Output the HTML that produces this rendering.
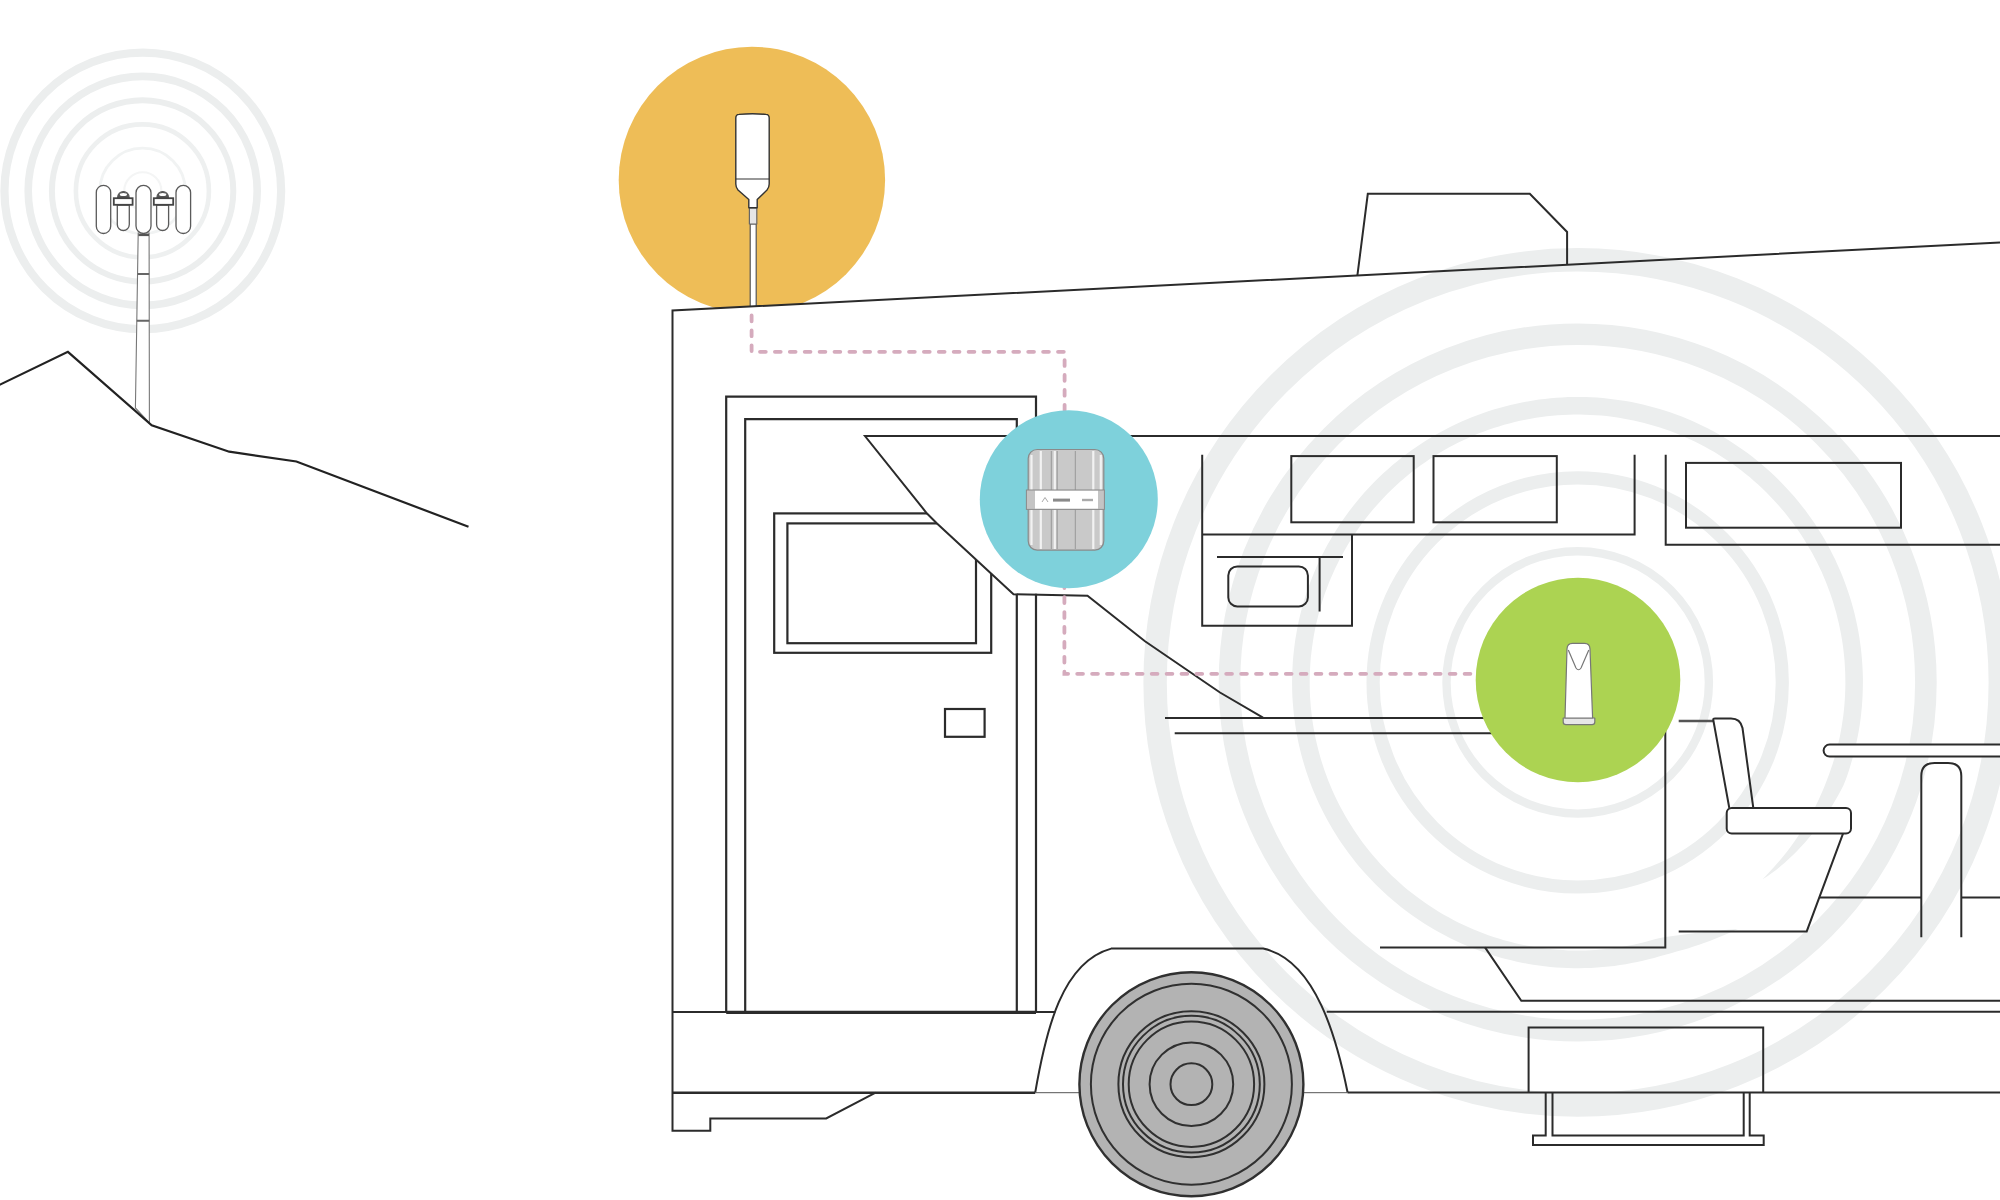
<!DOCTYPE html>
<html>
<head>
<meta charset="utf-8">
<title>RV signal booster diagram</title>
<style>
html,body{margin:0;padding:0;background:#fff;font-family:"Liberation Sans",sans-serif;}
svg{display:block;}
</style>
</head>
<body>
<svg width="2000" height="1200" viewBox="0 0 2000 1200">
<rect width="2000" height="1200" fill="#fff"/>

<!-- ===== TOWER ===== -->
<g id="tower-rings" fill="none" stroke="#eceeee">
  <circle cx="142.8" cy="190.9" r="138.35" stroke-width="8.2"/>
  <circle cx="142.7" cy="190.9" r="114.5" stroke-width="7.6"/>
  <circle cx="142.6" cy="190.9" r="90.7" stroke-width="6"/>
  <circle cx="142.4" cy="190.9" r="66.5" stroke-width="4.6" stroke="#eef0f0"/>
  <circle cx="142.6" cy="190.9" r="42.8" stroke-width="2.8" stroke="#f1f3f3"/>
  <circle cx="142.8" cy="190.9" r="18.6" stroke-width="2.1" stroke="#f4f5f5"/>
</g>
<g id="tower" fill="#fff" stroke="#5a5a5a" stroke-width="1.3">
  <path d="M138.2,233 L149.1,233 L149.4,423 L135.4,408 Z" stroke="#777" stroke-width="1.1"/>
  <path d="M137.6,274 H149.2 M136.8,320.8 H149.3" stroke="#666" stroke-width="2"/>
  <path d="M138.4,235 H149" stroke="#555" stroke-width="2.2"/>
  <rect x="96.3" y="185.3" width="14.4" height="48.2" rx="7.2"/>
  <rect x="136" y="185.3" width="15" height="48.2" rx="7.5"/>
  <rect x="176" y="185.3" width="14.6" height="48.2" rx="7.3"/>
  <!-- small antennas -->
  <path d="M117.3,205 V224.5 a6,6 0 0 0 12,0 V205 Z"/>
  <path d="M117.6,198 C117.6,189.5 129.2,189.5 129.2,198 Z" fill="#555" stroke="#555"/>
  <ellipse cx="123.4" cy="194.6" rx="3.6" ry="1.5" fill="#fff" stroke="none"/>
  <rect x="113.8" y="198.2" width="18.8" height="6.6" stroke="#444" stroke-width="1.8"/>
  <path d="M156.6,205 V224.5 a6,6 0 0 0 12,0 V205 Z"/>
  <path d="M156.9,198 C156.9,189.5 168.5,189.5 168.5,198 Z" fill="#555" stroke="#555"/>
  <ellipse cx="162.7" cy="194.6" rx="3.6" ry="1.5" fill="#fff" stroke="none"/>
  <rect x="153.8" y="198.2" width="19.4" height="6.6" stroke="#444" stroke-width="1.8"/>
</g>
<polyline points="-2,385.6 67.9,351.8 151.7,425.3 229.2,451.7 296.4,461.5 468.5,526.8" fill="none" stroke="#222" stroke-width="2.2" stroke-linejoin="miter"/>

<!-- ===== ORANGE CIRCLE + OUTSIDE ANTENNA ===== -->
<circle cx="751.9" cy="180" r="133.2" fill="#eebd57"/>
<g id="ant" fill="#fff" stroke="#333" stroke-width="1.4" stroke-linejoin="round">
  <path d="M750.2,224 H756.2 V308 H750.2 Z" stroke="#555" stroke-width="1.2"/>
  <path d="M749.4,207.8 H756.8 V224 H749.4 Z" fill="#e6e6e6" stroke="#666" stroke-width="1.2"/>
  <path d="M735.8,118 Q735.8,114.6 739,114.4 Q752.5,113 766,114.4 Q769.2,114.6 769.2,118 V184 Q769.2,187.5 767,190 L757.2,199.6 V207.8 H748.8 V199.6 L738,190 Q735.8,187.5 735.8,184 Z"/>
  <path d="M735.8,179 H769.2" stroke-width="1.2"/>
</g>

<!-- ===== RV BODY FILL ===== -->
<path d="M672.5,310.5 L2000,242.5 V1092.5 H672.5 Z" fill="#fff"/>

<!-- door (under cutaway) -->
<g fill="none" stroke="#2b2b2b" stroke-width="2.2" stroke-linejoin="miter">
  <path d="M726.2,1012 V396.6 H1036 V1012"/>
  <path d="M745.2,1012 V419.2 H1016.8 V1012"/>
  <rect x="774.2" y="513.4" width="217" height="139.4"/>
  <rect x="787.4" y="523.4" width="188.6" height="119.8"/>
  <rect x="945" y="709" width="39.6" height="27.8"/>
</g>
<!-- cutaway white -->
<path d="M865,435.8 L927,513.5 L937,523.5 L1013.5,593.8 H1060 V435.8 Z" fill="#fff"/>

<!-- ===== SIGNAL RINGS ===== -->
<g id="rings" fill="none" stroke="#eceeee">
  <circle cx="1577.7" cy="682.4" r="131.2" stroke-width="8.4"/>
  <circle cx="1577.7" cy="682.4" r="204.6" stroke-width="13.2"/>
  <path fill="#eceeee" stroke="none" d="M1762.5,879.2 L1767.4,876.3 L1771.9,873.1 L1776.4,869.7 L1780.8,866.1 L1785.0,862.4 L1789.2,858.6 L1793.3,854.7 L1797.3,850.7 L1801.2,846.6 L1805.0,842.4 L1808.7,838.1 L1812.4,833.7 L1815.9,829.2 L1819.4,824.6 L1822.7,820.0 L1826.0,815.2 L1829.2,810.4 L1832.3,805.5 L1835.2,800.6 L1838.1,795.5 L1840.8,790.4 L1843.5,785.2 L1845.7,779.8 L1847.6,774.4 L1849.4,768.9 L1851.1,763.3 L1852.7,757.7 L1854.2,752.1 L1855.6,746.5 L1856.8,740.8 L1858.0,735.1 L1859.0,729.4 L1859.9,723.7 L1860.7,717.9 L1861.3,712.2 L1861.9,706.4 L1862.3,700.6 L1862.6,694.8 L1862.8,689.0 L1862.9,683.2 L1862.9,677.4 L1862.7,671.6 L1862.4,665.8 L1862.0,660.0 L1861.5,654.2 L1860.9,648.5 L1860.1,642.7 L1859.3,637.0 L1858.3,631.2 L1857.2,625.5 L1856.0,619.9 L1854.7,614.2 L1853.2,608.6 L1851.7,603.0 L1850.0,597.4 L1848.2,591.9 L1846.3,586.4 L1844.3,581.0 L1842.2,575.6 L1840.0,570.2 L1837.6,564.9 L1835.2,559.6 L1832.6,554.4 L1830.0,549.2 L1827.2,544.1 L1824.4,539.1 L1821.4,534.1 L1818.3,529.2 L1815.2,524.3 L1811.9,519.5 L1808.5,514.8 L1805.1,510.1 L1801.5,505.5 L1797.9,501.0 L1794.2,496.5 L1790.3,492.2 L1786.4,487.9 L1782.4,483.7 L1778.3,479.6 L1774.2,475.5 L1769.9,471.6 L1765.6,467.7 L1761.2,463.9 L1756.7,460.2 L1752.1,456.6 L1747.5,453.1 L1742.8,449.7 L1738.0,446.4 L1733.2,443.2 L1728.3,440.0 L1723.4,437.0 L1718.3,434.1 L1713.3,431.3 L1708.1,428.6 L1702.9,426.0 L1697.7,423.5 L1692.4,421.1 L1687.1,418.8 L1681.7,416.6 L1676.2,414.6 L1670.8,412.6 L1665.3,410.8 L1659.7,409.1 L1654.1,407.4 L1648.5,405.9 L1642.9,404.6 L1637.2,403.3 L1631.5,402.1 L1625.8,401.1 L1620.1,400.2 L1614.3,399.4 L1608.6,398.7 L1602.8,398.1 L1597.0,397.6 L1591.2,397.3 L1585.4,397.1 L1579.6,397.0 L1573.8,397.0 L1568.0,397.1 L1562.2,397.4 L1556.4,397.8 L1550.6,398.3 L1544.8,398.9 L1539.0,399.6 L1533.3,400.4 L1527.6,401.4 L1521.9,402.5 L1516.2,403.7 L1510.5,405.0 L1504.9,406.4 L1499.3,407.9 L1493.7,409.6 L1488.2,411.3 L1482.7,413.2 L1477.2,415.2 L1471.8,417.3 L1466.4,419.5 L1461.1,421.8 L1455.8,424.3 L1450.6,426.8 L1445.4,429.4 L1440.3,432.2 L1435.2,435.0 L1430.2,438.0 L1425.3,441.0 L1420.4,444.2 L1415.6,447.4 L1410.8,450.8 L1406.1,454.2 L1401.5,457.7 L1397.0,461.4 L1392.5,465.1 L1388.2,468.9 L1383.8,472.8 L1379.6,476.8 L1375.5,480.8 L1371.4,485.0 L1367.4,489.2 L1363.5,493.6 L1359.7,498.0 L1356.0,502.4 L1352.4,507.0 L1348.9,511.6 L1345.5,516.3 L1342.1,521.0 L1338.9,525.9 L1335.8,530.8 L1332.7,535.7 L1329.8,540.7 L1326.9,545.8 L1324.2,550.9 L1321.6,556.1 L1319.1,561.3 L1316.7,566.6 L1314.4,572.0 L1312.2,577.3 L1310.1,582.8 L1308.1,588.2 L1306.2,593.7 L1304.5,599.3 L1302.8,604.9 L1301.3,610.5 L1299.9,616.1 L1298.6,621.8 L1297.4,627.5 L1296.4,633.2 L1295.4,638.9 L1294.6,644.7 L1293.9,650.4 L1293.3,656.2 L1292.8,662.0 L1292.5,667.8 L1292.2,673.6 L1292.1,679.4 L1292.1,685.2 L1292.2,691.1 L1292.4,696.9 L1292.8,702.7 L1293.3,708.5 L1293.8,714.2 L1294.6,720.0 L1295.4,725.8 L1296.3,731.5 L1297.4,737.2 L1298.5,742.9 L1299.8,748.6 L1301.2,754.2 L1302.7,759.8 L1304.4,765.4 L1306.1,771.0 L1308.0,776.5 L1309.9,781.9 L1312.0,787.4 L1314.2,792.8 L1316.5,798.1 L1318.9,803.4 L1321.4,808.6 L1324.0,813.8 L1326.8,819.0 L1329.6,824.0 L1332.5,829.1 L1335.6,834.0 L1338.7,838.9 L1341.9,843.7 L1345.3,848.5 L1348.7,853.2 L1352.2,857.8 L1355.8,862.4 L1359.5,866.9 L1363.3,871.3 L1367.2,875.6 L1371.2,879.8 L1375.2,884.0 L1379.4,888.1 L1383.6,892.1 L1387.9,896.0 L1392.3,899.8 L1396.8,903.5 L1401.3,907.2 L1405.9,910.7 L1410.6,914.2 L1415.3,917.5 L1420.1,920.8 L1425.0,923.9 L1430.0,927.0 L1435.0,930.0 L1440.0,932.8 L1445.2,935.6 L1450.3,938.2 L1455.6,940.8 L1460.9,943.2 L1466.2,945.5 L1471.6,947.7 L1477.0,949.8 L1482.4,951.8 L1487.9,953.7 L1493.5,955.5 L1499.1,957.2 L1504.7,958.7 L1510.3,960.1 L1516.0,961.4 L1521.7,962.7 L1527.4,963.7 L1533.1,964.7 L1538.9,965.6 L1544.6,966.3 L1550.4,966.9 L1556.2,967.4 L1562.0,967.8 L1567.8,968.0 L1573.6,968.2 L1579.5,968.2 L1585.3,968.1 L1591.1,967.9 L1596.9,967.6 L1602.7,967.1 L1608.5,966.6 L1614.3,965.9 L1620.0,965.1 L1625.8,964.2 L1631.5,963.1 L1637.2,962.0 L1642.9,960.7 L1648.5,959.3 L1654.1,957.9 L1659.7,956.2 L1665.3,954.7 L1671.0,953.2 L1676.6,951.6 L1682.3,950.0 L1687.9,948.4 L1693.5,946.6 L1699.1,944.7 L1704.7,942.7 L1710.3,940.7 L1715.8,938.5 L1721.3,936.3 L1726.8,933.9 L1732.3,931.5 L1737.8,928.9 L1737.8,928.9 L1731.1,929.5 L1724.6,930.1 L1718.2,930.7 L1711.9,931.3 L1705.8,931.9 L1699.7,932.6 L1693.8,933.3 L1688.0,934.0 L1682.2,934.7 L1676.6,935.5 L1671.0,936.3 L1665.4,937.1 L1660.0,938.0 L1654.7,939.3 L1649.4,940.8 L1644.1,942.2 L1638.8,943.5 L1633.5,944.7 L1628.2,945.8 L1622.8,946.7 L1617.4,947.6 L1612.0,948.4 L1606.6,949.0 L1601.1,949.5 L1595.7,949.9 L1590.3,950.3 L1584.8,950.5 L1579.3,950.5 L1573.9,950.5 L1568.4,950.4 L1563.0,950.1 L1557.5,949.8 L1552.1,949.3 L1546.7,948.7 L1541.3,948.0 L1535.9,947.2 L1530.5,946.3 L1525.1,945.3 L1519.8,944.2 L1514.5,943.0 L1509.2,941.6 L1503.9,940.2 L1498.7,938.6 L1493.5,936.9 L1488.3,935.2 L1483.2,933.3 L1478.1,931.3 L1473.1,929.2 L1468.1,927.1 L1463.1,924.8 L1458.2,922.4 L1453.4,919.9 L1448.6,917.3 L1443.8,914.7 L1439.1,911.9 L1434.5,909.0 L1429.9,906.1 L1425.4,903.0 L1420.9,899.8 L1416.5,896.6 L1412.2,893.3 L1407.9,889.9 L1403.7,886.4 L1399.6,882.8 L1395.6,879.1 L1391.6,875.4 L1387.7,871.5 L1383.9,867.6 L1380.2,863.7 L1376.6,859.6 L1373.0,855.5 L1369.5,851.3 L1366.1,847.0 L1362.8,842.7 L1359.6,838.2 L1356.5,833.8 L1353.5,829.2 L1350.5,824.6 L1347.7,820.0 L1344.9,815.3 L1342.3,810.5 L1339.7,805.7 L1337.2,800.8 L1334.9,795.9 L1332.6,790.9 L1330.5,785.9 L1328.4,780.9 L1326.5,775.8 L1324.6,770.7 L1322.9,765.5 L1321.2,760.3 L1319.7,755.1 L1318.3,749.8 L1317.0,744.5 L1315.8,739.2 L1314.7,733.8 L1313.7,728.5 L1312.8,723.1 L1312.0,717.7 L1311.4,712.3 L1310.8,706.8 L1310.4,701.4 L1310.0,696.0 L1309.8,690.5 L1309.7,685.1 L1309.7,679.6 L1309.8,674.2 L1310.1,668.7 L1310.4,663.3 L1310.8,657.8 L1311.4,652.4 L1312.1,647.0 L1312.9,641.6 L1313.7,636.2 L1314.7,630.9 L1315.8,625.5 L1317.1,620.2 L1318.4,614.9 L1319.8,609.6 L1321.3,604.4 L1323.0,599.2 L1324.7,594.0 L1326.6,588.9 L1328.5,583.8 L1330.6,578.8 L1332.8,573.8 L1335.0,568.8 L1337.4,563.9 L1339.8,559.0 L1342.4,554.2 L1345.1,549.5 L1347.8,544.8 L1350.7,540.1 L1353.6,535.5 L1356.7,531.0 L1359.8,526.5 L1363.0,522.1 L1366.3,517.8 L1369.7,513.5 L1373.2,509.3 L1376.8,505.2 L1380.4,501.2 L1384.1,497.2 L1387.9,493.3 L1391.8,489.5 L1395.8,485.7 L1399.8,482.1 L1404.0,478.5 L1408.1,475.0 L1412.4,471.6 L1416.7,468.3 L1421.1,465.0 L1425.6,461.9 L1430.1,458.8 L1434.7,455.9 L1439.3,453.0 L1444.0,450.3 L1448.8,447.6 L1453.6,445.0 L1458.4,442.5 L1463.3,440.2 L1468.3,437.9 L1473.3,435.7 L1478.3,433.6 L1483.4,431.7 L1488.5,429.8 L1493.7,428.0 L1498.9,426.4 L1504.1,424.8 L1509.4,423.4 L1514.7,422.1 L1520.0,420.8 L1525.3,419.7 L1530.7,418.7 L1536.0,417.8 L1541.4,417.0 L1546.8,416.3 L1552.3,415.8 L1557.7,415.3 L1563.1,415.0 L1568.6,414.7 L1574.0,414.6 L1579.5,414.6 L1584.9,414.7 L1590.4,414.9 L1595.8,415.2 L1601.2,415.6 L1606.7,416.1 L1612.1,416.8 L1617.5,417.5 L1622.9,418.4 L1628.2,419.4 L1633.6,420.5 L1638.9,421.7 L1644.2,423.0 L1649.4,424.4 L1654.7,425.9 L1659.9,427.5 L1665.0,429.2 L1670.2,431.1 L1675.3,433.0 L1680.3,435.0 L1685.3,437.2 L1690.3,439.4 L1695.2,441.8 L1700.1,444.2 L1704.9,446.8 L1709.7,449.4 L1714.4,452.1 L1719.0,455.0 L1723.6,457.9 L1728.2,460.9 L1732.7,464.0 L1737.1,467.2 L1741.4,470.5 L1745.7,473.9 L1749.9,477.3 L1754.0,480.9 L1758.1,484.5 L1762.1,488.2 L1766.0,492.0 L1769.8,495.9 L1773.6,499.9 L1777.3,503.9 L1780.8,508.0 L1784.3,512.1 L1787.8,516.4 L1791.1,520.7 L1794.3,525.1 L1797.5,529.5 L1800.6,534.0 L1803.5,538.6 L1806.4,543.2 L1809.2,547.9 L1811.9,552.6 L1814.5,557.4 L1817.0,562.3 L1819.4,567.2 L1821.7,572.1 L1823.8,577.1 L1825.9,582.1 L1827.9,587.2 L1829.8,592.3 L1831.6,597.5 L1833.3,602.7 L1834.8,607.9 L1836.3,613.1 L1837.6,618.4 L1838.9,623.7 L1840.0,629.0 L1841.1,634.4 L1842.0,639.7 L1842.8,645.1 L1843.5,650.5 L1844.1,656.0 L1844.6,661.4 L1844.9,666.8 L1845.2,672.3 L1845.3,677.7 L1845.4,683.1 L1845.3,688.6 L1845.1,694.0 L1844.8,699.5 L1844.4,704.9 L1843.9,710.3 L1843.3,715.7 L1842.5,721.1 L1841.7,726.5 L1840.7,731.9 L1839.7,737.2 L1838.5,742.5 L1837.2,747.8 L1835.8,753.1 L1834.4,758.3 L1832.8,763.6 L1831.0,768.7 L1829.2,773.9 L1827.3,779.0 L1825.4,784.1 L1823.4,789.1 L1821.2,794.1 L1819.0,799.1 L1816.6,804.0 L1814.2,808.9 L1811.6,813.7 L1809.0,818.5 L1806.2,823.2 L1803.4,827.9 L1800.5,832.5 L1797.5,837.1 L1794.4,841.6 L1791.2,846.0 L1787.9,850.4 L1784.5,854.7 L1781.0,859.0 L1777.5,863.1 L1773.8,867.2 L1770.1,871.3 L1766.4,875.3 L1762.5,879.2Z"/>
  <circle cx="1577.7" cy="682.4" r="348.2" stroke-width="21.6"/>
  <circle cx="1577.7" cy="682.4" r="422.6" stroke-width="23.4"/>
</g>

<!-- ===== RV LINES ===== -->
<g id="rv" fill="none" stroke="#2b2b2b" stroke-width="2" stroke-linejoin="miter">
  <!-- outline -->
  <path d="M2000,242.5 L672.5,310.5 V1130.7 H710.3 V1118.5 H826.2 L875.6,1092.7"/>
  <path d="M672.5,1092.7 H1035.2" stroke-width="2.6"/>
  <path d="M672.5,1012.1 H1055.3"/>
  <path d="M726.2,1012.4 H1036" stroke-width="3.4"/>
  <!-- AC -->
  <path d="M1357.4,275.4 L1367.8,193.8 H1529.8 L1567.1,232 V264.6"/>
  <!-- cutaway line -->
  <path d="M2000,436 H865 L927,513.5 L937,523.5 L1013.5,594.3 L1087.5,595.8 L1145,641.3 L1220,692.5 L1263,717.7"/>
  <!-- counter -->
  <path d="M1165,718 H1484 M1174.7,733.3 H1492"/>
  <!-- upper cabinets -->
  <path d="M1202.2,454.8 V625.8 H1352 V534.4 M1202.2,534.4 H1634.6 V454.8"/>
  <rect x="1291.3" y="456.1" width="122.4" height="66.2"/>
  <rect x="1433.5" y="456.1" width="123.3" height="66.2"/>
  <path d="M1665.7,454.8 V544.8 H2000"/>
  <rect x="1686" y="462.9" width="215" height="64.8"/>
  <!-- microwave -->
  <path d="M1217,557 H1343 M1319.6,557 V611.4"/>
  <rect x="1228.3" y="566.4" width="79.6" height="40" rx="9"/>
  <!-- bed / dinette wall -->
  <path d="M1665.3,722 V947.4 H1380"/>
  <path d="M1485,947.4 L1521.3,1000.7 H2000"/>
  <path d="M1326.7,1011.7 H2000"/>
  <path d="M1347.6,1092.5 H2000"/>
  <!-- wheel arch -->
  <path d="M1035.2,1092.7 C1046,1030 1062,962 1111.2,948.6 H1263.2 C1316,960 1337,1040 1347.6,1092.5"/>
  <path d="M1035.2,1092.7 H1347.6" stroke="#555" stroke-width="1"/>
  <!-- step box -->
  <path d="M1528.6,1092.5 V1027.6 H1763.2 V1092.5"/>
  <path d="M1545.7,1092.5 V1135.4 H1533 V1145 H1763.7 V1135.4 H1749.7 V1092.5 M1552.5,1092.5 V1135.4 H1743.7 V1092.5"/>
  <!-- seat -->
  <path d="M1678.7,721 H1713.3" stroke="#555" stroke-width="2.6"/>
  <path d="M1729.3,808 L1713.3,720 Q1713,718.4 1715,718.4 H1731 Q1740.5,718.4 1742.5,728 L1753.3,808"/>
  <rect x="1726.7" y="808" width="124.3" height="25.6" rx="5" fill="#fff"/>
  <path d="M1843,833.6 L1806.7,931.4 H1678.7"/>
  <path d="M1820,897.6 H1921.3 M1961.3,897.6 H2000"/>
  <!-- table -->
  <path d="M2002,744.6 H1829.6 a6,6 0 0 0 0,12 H2002 Z" fill="#fff"/>
  <path d="M1921.3,937.2 V776 Q1921.3,762.9 1934.6,762.9 H1948 Q1961.3,762.9 1961.3,776 V937.2"/>
</g>

<!-- ===== WHEEL ===== -->
<g id="wheel" fill="none" stroke="#303030" stroke-width="2">
  <circle cx="1191.4" cy="1084.2" r="112" fill="#b3b3b3" stroke-width="2.4"/>
  <circle cx="1191.4" cy="1084.2" r="100.5"/>
  <circle cx="1191.4" cy="1084.2" r="73"/>
  <circle cx="1191.4" cy="1084.2" r="68.4"/>
  <circle cx="1191.4" cy="1084.2" r="62.7"/>
  <circle cx="1191.4" cy="1084.2" r="41.8"/>
  <circle cx="1191.4" cy="1084.2" r="20.9"/>
</g>

<!-- ===== DASHED CABLES ===== -->
<g fill="none" stroke="#d5abbd" stroke-width="3.8" stroke-linecap="round" stroke-dasharray="5.8 9.1" stroke-dashoffset="-1.9">
  <path d="M751.6,313.6 V351.8 H1064.6 V412"/>
  <path d="M1064.4,580.4 V673.8 H1478"/>
</g>

<!-- ===== BLUE CIRCLE + AMP ===== -->
<circle cx="1068.8" cy="499.3" r="89" fill="#7ed1db"/>
<g id="amp">
  <rect x="1028.2" y="449.5" width="75.6" height="100.6" rx="9" fill="#c9c9c9" stroke="#8a8a8a" stroke-width="1.2"/>
  <path d="M1031.5,455 V545 M1040.8,451 V549 M1054.8,451 V549 M1093.3,451 V549 M1100.8,455 V545" stroke="#f2f2f2" stroke-width="2.2" fill="none"/>
  <path d="M1051.3,451 V549 M1057.2,451 V549 M1075.3,451 V549" stroke="#999" stroke-width="1" fill="none"/>
  <rect x="1026.4" y="490" width="78" height="19.4" fill="#c4c4c4" stroke="#8a8a8a" stroke-width="1"/>
  <rect x="1035" y="490.8" width="63" height="17.8" fill="#fff"/>
  <path d="M1042,502 L1045,497.5 L1048,502" stroke="#aaa" stroke-width="1" fill="none"/>
  <rect x="1053" y="498.6" width="17" height="3" fill="#8a8a8a"/>
  <rect x="1082" y="498.8" width="11" height="2.4" fill="#aaa"/>
</g>

<!-- ===== GREEN CIRCLE + INSIDE ANTENNA ===== -->
<circle cx="1578" cy="680" r="102.3" fill="#acd352"/>
<g id="inant" fill="#fff" stroke="#777" stroke-width="1.2" stroke-linejoin="round">
  <path d="M1563.2,718 H1594.8 V722 Q1594.8,724.6 1592,724.6 H1566 Q1563.2,724.6 1563.2,722 Z" fill="#e6e6e6"/>
  <path d="M1565,718 L1567,649 Q1567.2,643.4 1572.5,643.4 H1584.5 Q1589.8,643.4 1590,649 L1592.6,718 Z"/>
  <path d="M1568.3,650 L1576,668 Q1578.5,671.5 1581,668 L1588.8,650" fill="none"/>
</g>
</svg>
</body>
</html>
